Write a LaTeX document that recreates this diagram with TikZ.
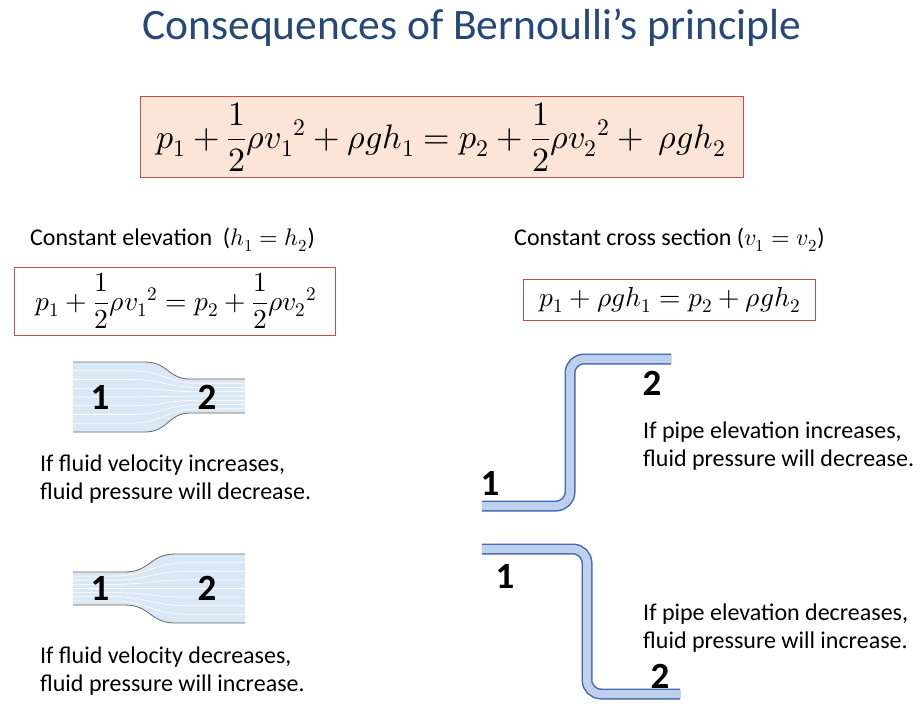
\documentclass[tikz,border=0pt]{standalone}
\usepackage{fontspec}
\setmainfont{Carlito}
\usepackage{unicode-math}
\setmathfont{Latin Modern Math}
\begin{document}
\begin{tikzpicture}[x=1pt,y=-1pt]
\definecolor{ttl}{RGB}{37,72,120}
\definecolor{peach}{RGB}{252,228,214}
\definecolor{bred}{RGB}{192,80,77}
\definecolor{fluid}{RGB}{218,232,245}
\definecolor{pipeb}{RGB}{68,104,180}
\definecolor{pipef}{RGB}{190,208,236}
\tikzset{eqbox/.style={draw=bred,line width=1pt,inner sep=0pt},
 txt/.style={font=\fontsize{24}{28.5}\selectfont,align=left,anchor=west,inner sep=0pt},
 num/.style={font=\fontsize{37}{38}\selectfont\bfseries,inner sep=0pt},
 pipeo/.style={draw=pipeb,line width=11pt,rounded corners=14pt},
 pipei/.style={draw=pipef,line width=8pt,rounded corners=14pt},
 nozz/.style={fill=fluid,draw=none},
 edge/.style={draw=gray!80!black,line width=0.8pt},
 sl/.style={draw=white,line width=0.6pt}}
\useasboundingbox (0,0) rectangle (920,716);
\node[font=\fontsize{43.5}{46}\selectfont,text=ttl,inner sep=0pt] (title) at (472,28) {Consequences of Bernoulli’s principle};
\draw[eqbox,fill=peach] (140,96) rectangle (743,177);
\node[font=\fontsize{34}{36}\selectfont,inner sep=0pt] (eq1) at (441,137) {$p_1+\dfrac{1}{2}\rho {v_1}^2+\rho g h_1=p_2+\dfrac{1}{2}\rho {v_2}^2+\ \rho g h_2$};
\node[txt] (ce) at (30,240) {Constant elevation\ \ ($h_1=h_2$)};
\node[txt] (cc) at (514,240) {Constant cross section ($v_1=v_2$)};
\draw[eqbox] (14,267) rectangle (335,335);
\node[font=\fontsize{27.5}{30}\selectfont,inner sep=0pt] (eq2) at (176,301) {$p_1+\dfrac{1}{2}\rho {v_1}^2=p_2+\dfrac{1}{2}\rho {v_2}^2$};
\draw[eqbox] (523,279) rectangle (815,320);
\node[font=\fontsize{27.5}{30}\selectfont,inner sep=0pt] (eq3) at (670,300) {$p_1+\rho g h_1=p_2+\rho g h_2$};
% nozzle 1 (converging)
\fill[nozz] (73,362) -- (145,362) .. controls (168,362) and (168,379) .. (190,379) -- (245,379) -- (245,413) -- (190,413) .. controls (168,413) and (168,432) .. (145,432) -- (73,432) -- cycle;
\foreach \t in {0.125,0.25,...,0.9} {
 \pgfmathsetmacro{\a}{362+70*\t}\pgfmathsetmacro{\b}{379+34*\t}
 \draw[sl] (73,\a) -- (130,\a) .. controls (165,\a) and (165,\b) .. (200,\b) -- (245,\b);}
\draw[edge] (73,362) -- (145,362) .. controls (168,362) and (168,379) .. (190,379) -- (245,379);
\draw[edge] (73,432) -- (145,432) .. controls (168,432) and (168,413) .. (190,413) -- (245,413);
\node[num] (n1a) at (100,397) {1};
\node[num] (n2a) at (207,397) {2};
% nozzle 2 (diverging)
\fill[nozz] (73,572) -- (125,572) .. controls (150,572) and (150,554) .. (175,554) -- (245,554) -- (245,623) -- (175,623) .. controls (150,623) and (150,605) .. (125,605) -- (73,605) -- cycle;
\foreach \t in {0.125,0.25,...,0.9} {
 \pgfmathsetmacro{\a}{572+33*\t}\pgfmathsetmacro{\b}{554+69*\t}
 \draw[sl] (73,\a) -- (110,\a) .. controls (150,\a) and (150,\b) .. (190,\b) -- (245,\b);}
\draw[edge] (73,572) -- (125,572) .. controls (150,572) and (150,554) .. (175,554) -- (245,554);
\draw[edge] (73,605) -- (125,605) .. controls (150,605) and (150,623) .. (175,623) -- (245,623);
\node[num] (n1b) at (100,588) {1};
\node[num] (n2b) at (207,588) {2};
\node[txt] (t1) at (40,479) {If fluid velocity increases,\\fluid pressure will decrease.};
\node[txt] (t2) at (40,671) {If fluid velocity decreases,\\fluid pressure will increase.};
% pipes
\coordinate (pa) at (482,506); \coordinate (pb) at (570,506); \coordinate (pc) at (570,359); \coordinate (pd) at (671,359);
\draw[pipeo] (pa) -- (pb) -- (pc) -- (pd);
\draw[pipei] ([xshift=-0.5pt]pa) -- (pb) -- (pc) -- ([xshift=0.5pt]pd);
\coordinate (qa) at (482,549); \coordinate (qb) at (587,549); \coordinate (qc) at (587,694); \coordinate (qd) at (680,694);
\draw[pipeo] (qa) -- (qb) -- (qc) -- (qd);
\draw[pipei] ([xshift=-0.5pt]qa) -- (qb) -- (qc) -- ([xshift=0.5pt]qd);
\node[num] (p2a) at (652,383) {2};
\node[num] (p1a) at (490,483) {1};
\node[num] (p1b) at (505,576) {1};
\node[num] (p2b) at (660,676) {2};
\node[txt] (t3) at (643,446) {If pipe elevation increases,\\fluid pressure will decrease.};
\node[txt] (t4) at (643,628) {If pipe elevation decreases,\\fluid pressure will increase.};
\end{tikzpicture}
\end{document}
